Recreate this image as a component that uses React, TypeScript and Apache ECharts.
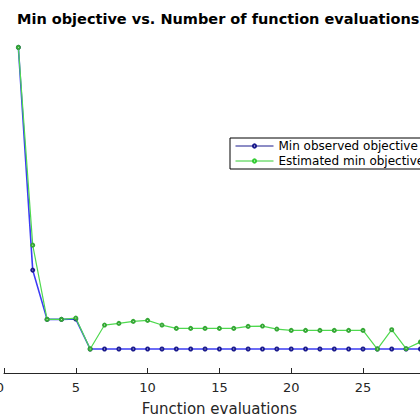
import React, { useEffect, useRef } from "react";
import * as echarts from "echarts";

const evaluations = [1, 2, 3, 4, 5, 6, 7, 8, 9, 10, 11, 12, 13, 14, 15, 16, 17, 18, 19, 20, 21, 22, 23, 24, 25, 26, 27, 28, 29];
const minObserved = [0.978, 0.309, 0.161, 0.161, 0.162, 0.072, 0.072, 0.072, 0.072, 0.072, 0.072, 0.072, 0.072, 0.072, 0.072, 0.072, 0.072, 0.072, 0.072, 0.072, 0.072, 0.072, 0.072, 0.072, 0.072, 0.072, 0.072, 0.072, 0.072];
const estimatedMin = [0.978, 0.384, 0.161, 0.161, 0.165, 0.072, 0.144, 0.149, 0.155, 0.158, 0.144, 0.134, 0.134, 0.134, 0.134, 0.134, 0.140, 0.141, 0.132, 0.128, 0.128, 0.128, 0.128, 0.128, 0.128, 0.072, 0.130, 0.073, 0.093];
const xTicks = { min: 0, max: 30, interval: 5 };
const titleText = "Min objective vs. Number of function evaluations";
const xName = "Function evaluations";
const seriesNames = ["Min observed objective", "Estimated min objective"];

const FONT = "DejaVu Sans";

export default function App() {
  const ref = useRef<HTMLDivElement>(null);
  useEffect(() => {
    if (!ref.current) return;
    const chart = echarts.init(ref.current, null, { renderer: "svg" });
    chart.setOption({
      animation: false,
      backgroundColor: "#ffffff",
      title: {
        text: titleText,
        left: 17,
        top: 11,
        padding: 0,
        textStyle: { fontFamily: FONT, fontWeight: "bold", fontSize: 14.5, color: "#000" },
      },
      legend: {
        orient: "vertical",
        left: 230,
        top: 138,
        padding: [2, 5],
        itemGap: 3,
        itemWidth: 38,
        itemHeight: 4,
        borderColor: "#000",
        borderWidth: 1,
        backgroundColor: "#fff",
        textStyle: { fontFamily: FONT, fontSize: 12, color: "#000" },
        data: [
          { name: seriesNames[0], itemStyle: { color: "#1a1a8c", borderColor: "#1a1a8c" }, lineStyle: { color: "#1a1a8c", width: 1 } },
          { name: seriesNames[1], itemStyle: { color: "#33cc33", borderColor: "#33cc33" }, lineStyle: { color: "#33cc33", width: 1 } },
        ],
      },
      grid: { left: 4, right: -14.8, top: 40, bottom: 47, containLabel: false, outerBoundsMode: "none" },
      xAxis: {
        type: "value",
        min: xTicks.min,
        max: xTicks.max,
        interval: xTicks.interval,
        name: xName,
        nameLocation: "middle",
        nameGap: 28,
        nameTextStyle: { fontFamily: FONT, fontSize: 15, color: "#262626" },
        axisLine: { lineStyle: { color: "#262626", width: 1 } },
        axisTick: { inside: true, length: 5, lineStyle: { color: "#262626" } },
        axisLabel: { fontFamily: FONT, fontSize: 13, color: "#262626", margin: 8, showMaxLabel: false, hideOverlap: false, alignMinLabel: "right" },
        splitLine: { show: false },
      },
      yAxis: {
        type: "value",
        min: 0,
        max: 1,
        show: false,
        splitLine: { show: false },
      },
      series: [
        {
          name: seriesNames[0],
          type: "line",
          data: evaluations.map((x, i) => [x, minObserved[i]]),
          symbol: "emptyCircle",
          symbolSize: 3,
          lineStyle: { color: "#3c3cf5", width: 1.6 },
          itemStyle: { color: "#1a1a8c", borderWidth: 1 },
          z: 2,
        },
        {
          name: seriesNames[1],
          type: "line",
          data: evaluations.map((x, i) => [x, estimatedMin[i]]),
          symbol: "emptyCircle",
          symbolSize: 3,
          lineStyle: { color: "#4fd94f", width: 1.2 },
          itemStyle: { color: "#35a835", borderWidth: 1 },
          z: 3,
        },
      ],
    });
    return () => chart.dispose();
  }, []);
  return <div ref={ref} style={{ position: "absolute", left: 0, top: 0, width: 420, height: 420 }} />;
}
